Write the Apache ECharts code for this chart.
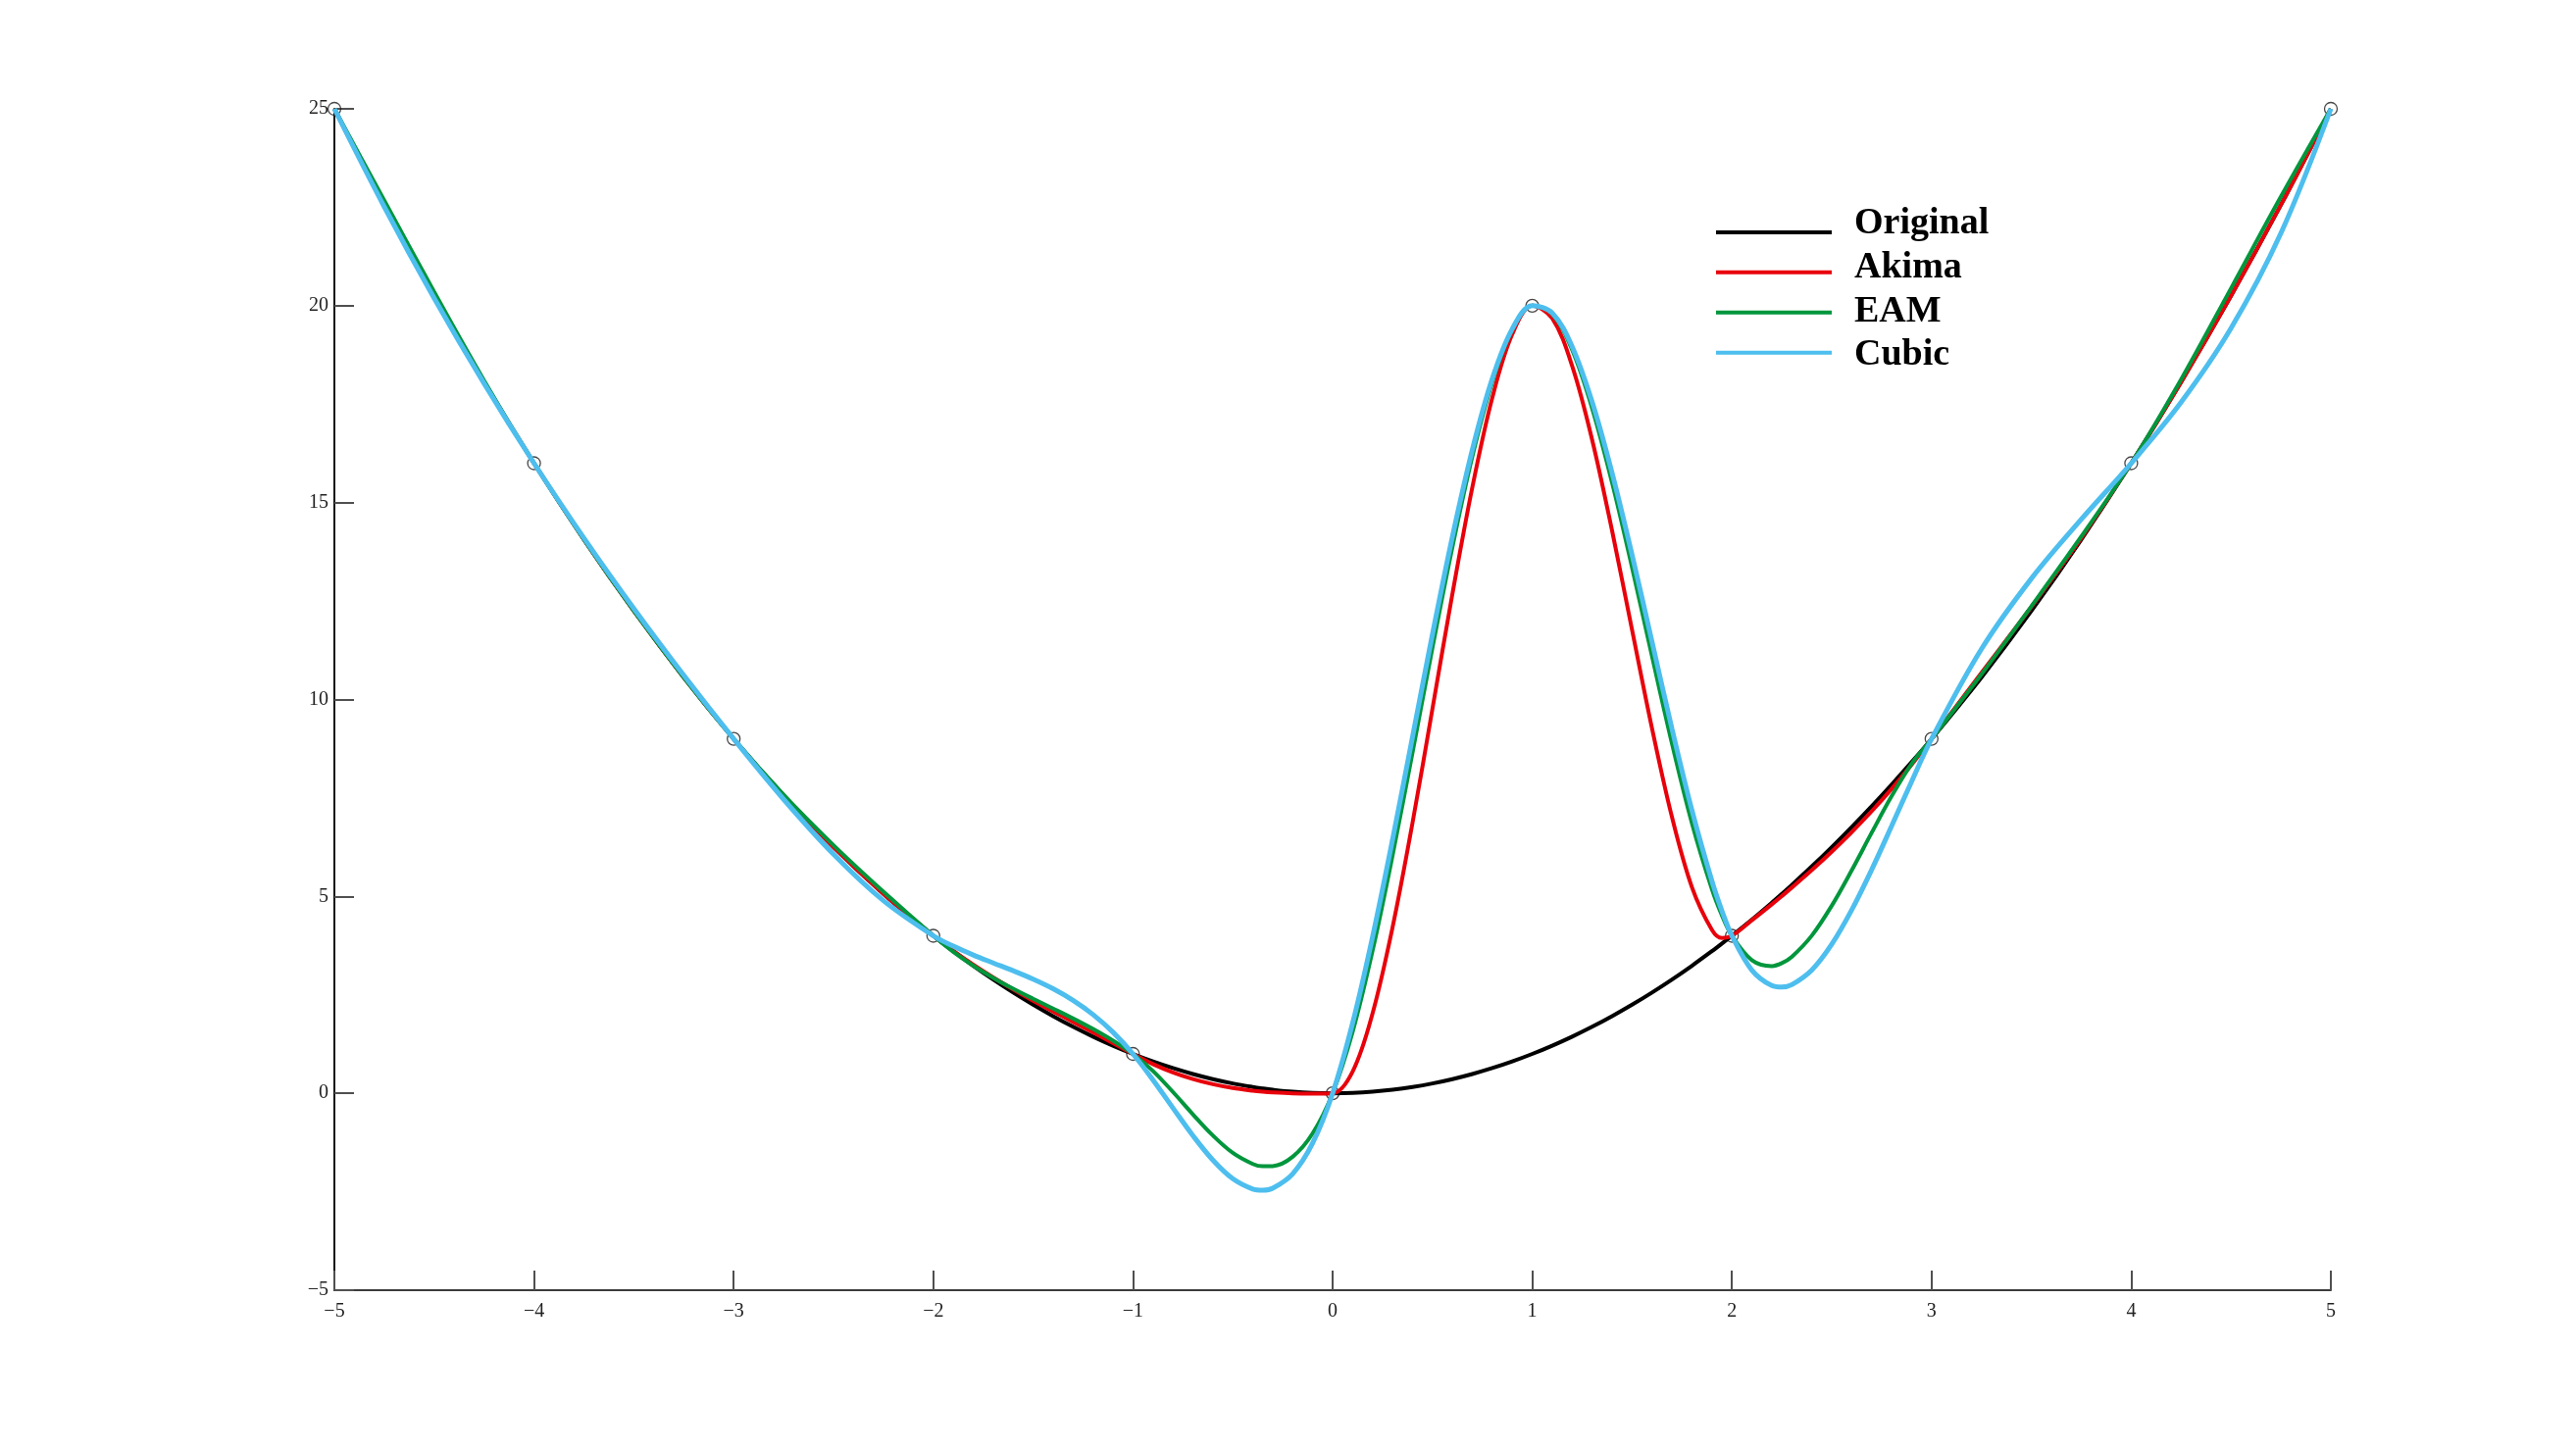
<!DOCTYPE html>
<html>
<head>
<meta charset="utf-8">
<script src="https://cdn.jsdelivr.net/npm/echarts@6/dist/echarts.min.js"></script>
<style>
  html, body { margin: 0; padding: 0; background: #ffffff; }
  #chart { width: 2627px; height: 1479px; }
</style>
</head>
<body>
<div id="chart"></div>
<script>
// Sample nodes (open circles)
const nodeX = [-5, -4, -3, -2, -1, 0, 1, 2, 3, 4, 5];
const nodeY = [25, 16, 9, 4, 1, 0, 20, 4, 9, 16, 25];

// Shared x positions at which curves were read
const curveX = [-5, -4.75, -4.5, -4.25, -4, -3.75, -3.5, -3.25, -3, -2.75, -2.5, -2.25, -2,
  -1.9, -1.8, -1.7, -1.6, -1.5, -1.4, -1.3, -1.2, -1.1, -1,
  -0.9, -0.8, -0.7, -0.6, -0.5, -0.4, -0.35, -0.3, -0.2, -0.1, 0,
  0.1, 0.2, 0.3, 0.4, 0.5, 0.6, 0.7, 0.8, 0.9, 1,
  1.1, 1.2, 1.3, 1.4, 1.5, 1.6, 1.7, 1.8, 1.9, 1.95, 2,
  2.1, 2.2, 2.25, 2.3, 2.4, 2.5, 2.6, 2.7, 2.8, 2.9,
  3, 3.25, 3.5, 3.75, 4, 4.25, 4.5, 4.75, 5];

const originalY = [25, 22.5625, 20.25, 18.0625, 16, 14.0625, 12.25, 10.5625, 9, 7.5625, 6.25, 5.0625, 4,
  3.61, 3.24, 2.89, 2.56, 2.25, 1.96, 1.69, 1.44, 1.21, 1,
  0.81, 0.64, 0.49, 0.36, 0.25, 0.16, 0.1225, 0.09, 0.04, 0.01, 0,
  0.01, 0.04, 0.09, 0.16, 0.25, 0.36, 0.49, 0.64, 0.81, 1,
  1.21, 1.44, 1.69, 1.96, 2.25, 2.56, 2.89, 3.24, 3.61, 3.8025, 4,
  4.41, 4.84, 5.0625, 5.29, 5.76, 6.25, 6.76, 7.29, 7.84, 8.41,
  9, 10.5625, 12.25, 14.0625, 16, 18.0625, 20.25, 22.5625, 25];

const akimaY = [25, 22.5625, 20.25, 18.0625, 16, 14.0625, 12.25, 10.5625, 9, 7.5625, 6.25, 5.0625, 4,
  3.617, 3.266, 2.942, 2.639, 2.353, 2.079, 1.811, 1.546, 1.277, 1,
  0.742, 0.531, 0.362, 0.231, 0.134, 0.066, 0.041, 0.023, 0.000, -0.006, 0,
  0.551, 2.029, 4.209, 6.863, 9.763, 12.682, 15.393, 17.667, 19.279, 20,
  19.679, 18.467, 16.593, 14.282, 11.763, 9.263, 7.010, 5.230, 4.151, 3.945, 4,
  4.394, 4.800, 5.009, 5.223, 5.666, 6.134, 6.631, 7.162, 7.731, 8.342,
  9, 10.679, 12.353, 14.101, 16, 18.0625, 20.25, 22.5625, 25];

const eamY = [25, 22.675, 20.35, 18.10, 16, 14.0625, 12.25, 10.5625, 9, 7.581, 6.30, 5.119, 4,
  3.592, 3.24, 2.932, 2.656, 2.40, 2.152, 1.90, 1.632, 1.336, 1,
  0.568, 0.035, -0.533, -1.070, -1.513, -1.794, -1.853, -1.848, -1.611, -1.017, 0,
  1.554, 3.616, 6.032, 8.648, 11.313, 13.872, 16.174, 18.064, 19.391, 20,
  19.793, 18.874, 17.392, 15.501, 13.35, 11.091, 8.876, 6.854, 5.179, 4.518, 4,
  3.381, 3.230, 3.305, 3.465, 4.003, 4.763, 5.661, 6.616, 7.546, 8.368,
  9, 10.64, 12.37, 14.14, 16, 18.13, 20.44, 22.77, 25];

const cubicY = [25, 22.511, 20.191, 18.026, 16, 14.099, 12.309, 10.614, 9, 7.467, 6.073, 4.893, 4,
  3.736, 3.512, 3.310, 3.112, 2.899, 2.655, 2.361, 1.999, 1.551, 1,
  0.341, -0.372, -1.073, -1.695, -2.170, -2.431, -2.461, -2.412, -2.045, -1.264, 0,
  1.779, 3.970, 6.437, 9.045, 11.656, 14.135, 16.345, 18.150, 19.414, 20,
  19.818, 18.958, 17.556, 15.749, 13.672, 11.461, 9.252, 7.182, 5.386, 4.633, 4,
  3.127, 2.735, 2.698, 2.757, 3.128, 3.783, 4.655, 5.678, 6.787, 7.917,
  9, 11.282, 13.072, 14.577, 16, 17.548, 19.428, 21.843, 25];

const seriesNames = ['Original', 'Akima', 'EAM', 'Cubic'];
const seriesColors = ['#000000', '#e8000b', '#00963c', '#4dbeee'];
const seriesWidths = [4, 4, 4, 5];
const seriesValues = [originalY, akimaY, eamY, cubicY];

const pairs = (xs, ys) => xs.map((x, i) => [x, ys[i]]);
const fmt = v => (v < 0 ? '\u2212' + Math.abs(v) : String(v));

const chart = echarts.init(document.getElementById('chart'), null, { renderer: 'canvas' });

const lineSeries = seriesNames.map((name, k) => ({
  name: name,
  type: 'line',
  data: pairs(curveX, seriesValues[k]),
  smooth: 0.35,
  showSymbol: false,
  symbol: 'none',
  color: seriesColors[k],
  lineStyle: { color: seriesColors[k], width: seriesWidths[k] },
  itemStyle: { color: seriesColors[k] },
  z: 3 + k,
  silent: true
}));

const legendFont = { fontFamily: 'Liberation Serif', fontWeight: 'bold', fontSize: 38 };

chart.setOption({
  animation: false,
  backgroundColor: '#ffffff',
  grid: { left: 341, right: 250, top: 111, bottom: 163, containLabel: false },
  legend: [
    {
      // line samples
      data: seriesNames,
      orient: 'vertical',
      left: 1750,
      top: 216.5,
      padding: 0,
      icon: 'rect',
      itemWidth: 118,
      itemHeight: 4,
      itemGap: 0,
      selectedMode: false,
      textStyle: Object.assign({ color: 'rgba(0,0,0,0)', lineHeight: 40.9, padding: 0 }, legendFont)
    },
    {
      // labels
      data: seriesNames,
      orient: 'vertical',
      left: 1886,
      top: 206,
      padding: 0,
      icon: 'rect',
      itemWidth: 0,
      itemHeight: 0,
      itemGap: 0,
      selectedMode: false,
      textStyle: Object.assign({ color: '#000', lineHeight: 44.7, padding: 0 }, legendFont)
    }
  ],
  xAxis: {
    type: 'value',
    min: -5, max: 5, interval: 1,
    axisLine: { show: true, onZero: false, lineStyle: { color: '#3c3c3c', width: 2 } },
    axisTick: { show: true, inside: true, length: 20, lineStyle: { color: '#505050', width: 2 } },
    axisLabel: { margin: 12, fontFamily: 'Liberation Serif', fontSize: 20, color: '#222', formatter: fmt },
    splitLine: { show: false }
  },
  yAxis: {
    type: 'value',
    min: -5, max: 25, interval: 5,
    axisLine: { show: true, onZero: false, lineStyle: { color: '#111', width: 2 } },
    axisTick: { show: true, inside: true, length: 20, lineStyle: { color: '#505050', width: 2 } },
    axisLabel: { margin: 6, fontFamily: 'Liberation Serif', fontSize: 20, color: '#222', formatter: fmt },
    splitLine: { show: false }
  },
  series: [
    {
      name: 'nodes',
      type: 'scatter',
      data: pairs(nodeX, nodeY),
      symbol: 'circle',
      symbolSize: 13,
      itemStyle: { color: 'rgba(255,255,255,0)', borderColor: '#1a1a1a', borderWidth: 1.3 },
      z: 2,
      silent: true
    }
  ].concat(lineSeries)
});
</script>
</body>
</html>
